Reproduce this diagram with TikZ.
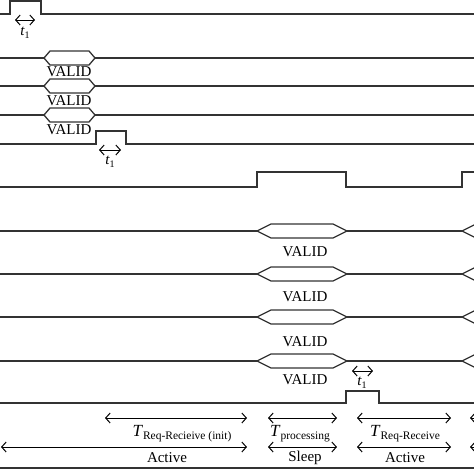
\documentclass[tikz,border=0pt]{standalone}
\usepackage{fontspec}
\setmainfont{Liberation Serif}
\usetikzlibrary{arrows.meta}

\newcommand{\tsub}[1]{{\fontsize{17}{17}\selectfont\textit{T}}\raisebox{-0.45ex}{\fontsize{11.5}{12}\selectfont #1}}
\newcommand{\tone}{\textit{t}\raisebox{-0.45ex}{\fontsize{10}{10}\selectfont 1}}
% bus hexagon: y, left x, right x, bevel
\newcommand{\hexbus}[4]{%
  \draw[wave] (#2,#1) -- (#2+#4,#1-7) -- (#3-#4,#1-7) -- (#3,#1)
    -- (#3-#4,#1+7) -- (#2+#4,#1+7) -- cycle;}

\tikzset{
  wave/.style={line width=1.3pt, draw=black!80},
  lbl/.style={font=\fontsize{15}{17}\selectfont, inner sep=0pt},
  tlbl/.style={font=\fontsize{15}{17}\selectfont, inner sep=0pt},
  span/.style={{Straight Barb[length=4.5pt,width=10pt]}-{Straight Barb[length=4.5pt,width=10pt]}, line width=1pt},
}

\begin{document}
\begin{tikzpicture}[x=1pt,y=-1pt]
\useasboundingbox (0,0) rectangle (474,474);
\clip (0,0) rectangle (474,474);

% 1st tier:
\draw[wave] (0,14) -- (10,14) -- (10,1) -- (41,1) -- (41,14) -- (474,14);
\coordinate (ta1) at (15,20); \coordinate (tb1) at (35,20);
\draw[span] (ta1) -- (tb1);
\node[tlbl] (t1a) at (25,33) {\tone};

% 2nd tier:
\foreach \y/\v [count=\i] in {58/72, 86/101, 115/130} {
  \draw[wave] (0,\y) -- (44,\y);
  \hexbus{\y}{44}{95}{6}
  \draw[wave] (95,\y) -- (474,\y);
  \node[lbl] (validA\i) at (69,\v) {VALID};
}

\draw[wave] (0,144) -- (96,144) -- (96,131) -- (126,131) -- (126,144) -- (474,144);
\coordinate (ta2) at (99,150); \coordinate (tb2) at (121,150);
\draw[span] (ta2) -- (tb2);
\node[tlbl] (t1b) at (110,162) {\tone};

% 3rd tier:
\draw[wave] (0,187) -- (257,187) -- (257,172) -- (346,172) -- (346,187)
  -- (462,187) -- (462,172) -- (480,172);

\foreach \y/\v [count=\i] in {231/252, 274/297, 317/342, 361/380} {
  \draw[wave] (0,\y) -- (257,\y);
  \hexbus{\y}{257}{347}{14}
  \draw[wave] (347,\y) -- (462,\y);
  \hexbus{\y}{462}{560}{14}
  \node[lbl] (validB\i) at (305,\v) {VALID};
}

\draw[wave] (0,403) -- (346,403) -- (346,391) -- (379,391) -- (379,403) -- (474,403);
\coordinate (ta3) at (352,371); \coordinate (tb3) at (373,371);
\draw[span] (ta3) -- (tb3);
\node[tlbl] (t1c) at (362,383) {\tone};

% phases:
\foreach \a/\b [count=\i] in {105/247, 268/337, 357/451, 470/520} {
  \coordinate (pl\i) at (\a,418); \coordinate (pr\i) at (\b,418);
  \draw[span] (pl\i) -- (pr\i);
}
\foreach \a/\b [count=\i] in {1/247, 268/337, 357/451, 470/520} {
  \coordinate (ql\i) at (\a,447); \coordinate (qr\i) at (\b,447);
  \draw[span] (ql\i) -- (qr\i);
}
\node[tlbl] (tinit) at (182,434) {\tsub{Req-Recieive (init)}};
\node[tlbl] (tproc) at (300,434) {\tsub{processing}};
\node[tlbl] (treq) at (405,434) {\tsub{Req-Receive}};
\node[lbl] (act1) at (167,458) {Active};
\node[lbl] (sleep) at (305,458) {Sleep};
\node[lbl] (act2) at (405,458) {Active};

\draw[wave] (0,468) -- (474,468);

\end{tikzpicture}
\end{document}
